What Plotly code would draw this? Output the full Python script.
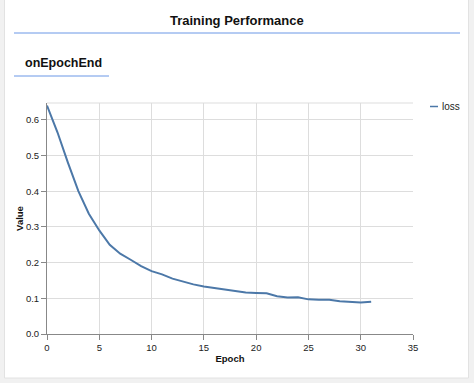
import plotly.graph_objects as go

epochs = list(range(32))
loss = [0.640, 0.565, 0.480, 0.400, 0.337, 0.290, 0.250, 0.225, 0.208, 0.190,
        0.176, 0.167, 0.155, 0.146, 0.139, 0.133, 0.129, 0.124, 0.119, 0.116,
        0.115, 0.114, 0.106, 0.102, 0.103, 0.097, 0.096, 0.096, 0.092, 0.091,
        0.088, 0.090]
x_ticks = [0, 5, 10, 15, 20, 25, 30, 35]
y_ticks = [0.0, 0.1, 0.2, 0.3, 0.4, 0.5, 0.6]

W, H = 474, 383
L, R, T, B = 47, 413, 103, 334
FONT = "Liberation Sans, Arial, Helvetica, sans-serif"


def px(x):
    return (x - L) / (R - L)


def py(y):
    return (B - y) / (B - T)


fig = go.Figure()
fig.add_trace(go.Scatter(x=epochs, y=loss, mode="lines", name="loss",
                         line=dict(color="#4c78a8", width=2), showlegend=False))

shapes = [
    # card
    dict(type="rect", xref="paper", yref="paper", x0=px(4.5), x1=px(468.5),
         y0=py(378), y1=py(-5), fillcolor="white",
         line=dict(color="#e2e2e2", width=1), layer="below"),
    # title underline
    dict(type="line", xref="paper", yref="paper", x0=px(14), x1=px(460),
         y0=py(33), y1=py(33), line=dict(color="#6a97e6", width=1)),
    # subtitle underline
    dict(type="line", xref="paper", yref="paper", x0=px(14), x1=px(109),
         y0=py(76), y1=py(76), line=dict(color="#6a97e6", width=1)),
    # top border of plot
    dict(type="line", xref="paper", yref="paper", x0=0, x1=1, y0=1, y1=1,
         line=dict(color="#dddddd", width=1), layer="below"),
    # legend symbol
    dict(type="line", xref="paper", yref="paper", x0=px(430), x1=px(438),
         y0=py(106.5), y1=py(106.5), line=dict(color="#4c78a8", width=1.5)),
]

annotations = [
    dict(text="<b>Training Performance</b>", xref="paper", yref="paper",
         x=px(237), y=py(20), showarrow=False, xanchor="center", yanchor="middle",
         font=dict(family=FONT, size=13, color="#111")),
    dict(text="<b>onEpochEnd</b>", xref="paper", yref="paper",
         x=px(22.5), y=py(63), showarrow=False, xanchor="left", yanchor="middle",
         font=dict(family=FONT, size=12.5, color="#111")),
    dict(text="loss", xref="paper", yref="paper",
         x=px(440), y=py(106.5), showarrow=False, xanchor="left", yanchor="middle",
         font=dict(family=FONT, size=10, color="#222")),
]

fig.update_layout(
    width=W, height=H,
    margin=dict(l=L, r=W - R, t=T, b=H - B),
    paper_bgcolor="#f1f1f1",
    plot_bgcolor="white",
    shapes=shapes,
    annotations=annotations,
    font=dict(family=FONT, size=9, color="#222"),
    showlegend=False,
)
fig.update_xaxes(
    range=[0, 35], tickvals=x_ticks, ticktext=[str(v) for v in x_ticks],
    showgrid=True, gridcolor="#dddddd", gridwidth=1, zeroline=False,
    showline=True, linecolor="#888888", linewidth=1,
    ticks="outside", ticklen=5, tickcolor="#888888",
    tickfont=dict(family=FONT, size=9.5, color="#222"),
    title=dict(text="<b>Epoch</b>", standoff=2,
               font=dict(family=FONT, size=9.5, color="#111")),
)
fig.update_yaxes(
    range=[0, 0.647], tickvals=y_ticks, ticktext=[f"{v:.1f}" for v in y_ticks],
    showgrid=True, gridcolor="#dddddd", gridwidth=1, zeroline=False,
    showline=True, linecolor="#888888", linewidth=1,
    ticks="outside", ticklen=5, tickcolor="#888888",
    tickfont=dict(family=FONT, size=9.5, color="#222"),
    title=dict(text="<b>Value</b>", standoff=0,
               font=dict(family=FONT, size=9.5, color="#111")),
)

fig.write_html("out.html", config={"displayModeBar": False},
               post_script="document.body.style.margin='0';document.body.style.background='#f1f1f1';")
